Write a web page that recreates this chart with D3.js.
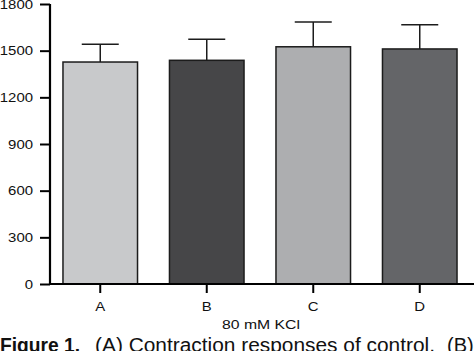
<!DOCTYPE html>
<html><head><meta charset="utf-8">
<script src="https://cdn.jsdelivr.net/npm/d3@7"></script>
<style>body{margin:0;background:#fff}svg{display:block}</style>
</head><body>
<svg id="c" width="474" height="351"></svg>
<script>
const categories = ["A","B","C","D"];
const means = [1427, 1438, 1525, 1511];
const errors = [114, 135, 159, 156];
const barColors = ["#c8c9cb","#464648","#adaeb0","#646568"];
const yTicks = [0,300,600,900,1200,1500,1800];
const xTitle = "80 mM KCl";

const svg = d3.select("#c");
const y = d3.scaleLinear().domain([0,1800]).range([284,4]);
const x = d3.scaleBand().domain(categories).range([47,473]).paddingInner(0.3).paddingOuter(0.15);

const font = "'Liberation Sans', Arial, sans-serif";
const sx = 1.15;

// bars
svg.selectAll("rect.bar").data(categories).join("rect")
  .attr("x", d=>x(d)).attr("width", x.bandwidth())
  .attr("y", (d,i)=>y(means[i])).attr("height",(d,i)=>y(0)-y(means[i]))
  .attr("fill",(d,i)=>barColors[i]).attr("stroke","#1c1c1c").attr("stroke-width",1.5);

// error bars
const cap = 37;
const eg = svg.append("g").attr("stroke","#1c1c1c").attr("stroke-width",1.5);
categories.forEach((d,i)=>{
  const cx = x(d)+x.bandwidth()/2;
  eg.append("line").attr("x1",cx).attr("x2",cx).attr("y1",y(means[i])).attr("y2",y(means[i]+errors[i]));
  eg.append("line").attr("x1",cx-cap/2).attr("x2",cx+cap/2).attr("y1",y(means[i]+errors[i])).attr("y2",y(means[i]+errors[i]));
});

// y axis
const ya = svg.append("g").attr("transform","translate(50,0)")
  .call(d3.axisLeft(y).tickValues(yTicks).tickFormat(d3.format("d")).tickSize(10).tickSizeOuter(0));
ya.select(".domain").attr("stroke","#000").attr("stroke-width",2.2).attr("d","M0,"+(y(0)+1)+"V"+y(1800));
ya.selectAll(".tick line").attr("stroke","#000").attr("stroke-width",2);
ya.selectAll(".tick text").attr("font-family",font).attr("font-size",13).attr("fill","#111")
  .attr("x",-17/sx).attr("transform",`scale(${sx},1)`);

// x axis
const xa = svg.append("g").attr("transform","translate(0,284)")
  .call(d3.axisBottom(x).tickSize(9).tickSizeOuter(0));
xa.select(".domain").attr("stroke","#000").attr("stroke-width",2).attr("d","M49,0H474");
xa.selectAll(".tick line").attr("stroke","#000").attr("stroke-width",2);
xa.selectAll(".tick text").attr("font-family",font).attr("font-size",13).attr("fill","#111")
  .attr("dy",null).attr("y",27).attr("transform",`scale(${sx},1)`);

svg.append("text").attr("x",222).attr("y",329)
  .attr("font-family",font).attr("font-size",13).attr("fill","#111")
  .attr("textLength",78).attr("lengthAdjust","spacingAndGlyphs").text(xTitle);

svg.append("text").attr("x",0).attr("y",352).attr("font-weight","bold")
  .attr("font-family",font).attr("font-size",20).attr("fill","#111")
  .attr("textLength",80).attr("lengthAdjust","spacingAndGlyphs").text("Figure 1.");
svg.append("text").attr("x",95).attr("y",352)
  .attr("font-family",font).attr("font-size",20).attr("fill","#111")
  .attr("textLength",340).attr("lengthAdjust","spacingAndGlyphs").text("(A) Contraction responses of control,");
svg.append("text").attr("x",447).attr("y",352)
  .attr("font-family",font).attr("font-size",20).attr("fill","#111").text("(B)");
</script>
</body></html>
